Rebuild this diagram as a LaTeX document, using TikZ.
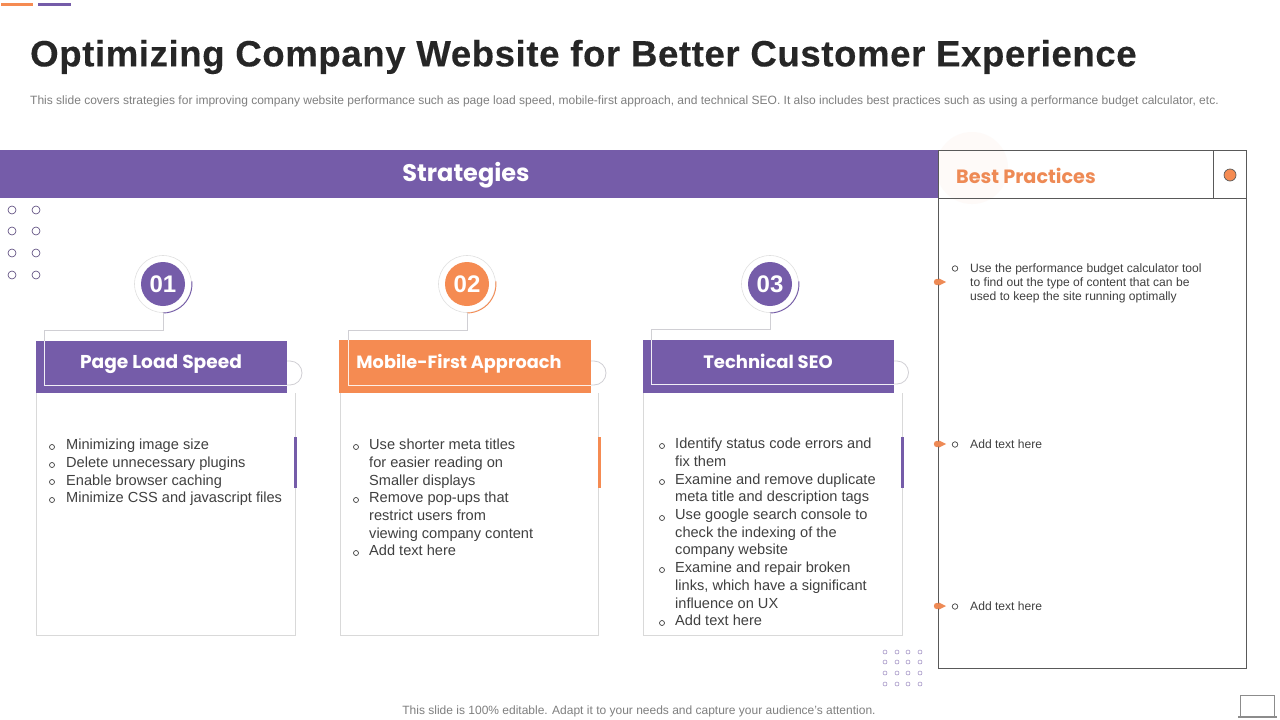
\documentclass[tikz,border=0pt]{standalone}
\usepackage{fontspec}
\setmainfont{Liberation Sans}
\newfontfamily\headfont{Poppins}
\newfontfamily\titlefont[LetterSpace=1.6,FakeBold=0.25]{Liberation Sans}
\definecolor{purp}{HTML}{755CA9}
\definecolor{orng}{HTML}{F58B52}
\definecolor{bptxt}{HTML}{EE8A55}
\definecolor{body}{HTML}{404040}
\definecolor{sub}{HTML}{7F7F7F}
\definecolor{frame}{HTML}{595959}
\definecolor{cardline}{HTML}{D9D9D9}
\definecolor{elbow}{HTML}{D0CFD4}
\tikzset{
  x=1pt,y=-1pt,
  headtxt/.style={text=white,inner sep=0,anchor=center},
  bullet/.style={circle,draw=body,fill=white,line width=.7pt,minimum size=5.5pt,inner sep=0},
  item/.style={text=body,font=\fontsize{14.6}{17.7}\selectfont,align=left,inner sep=0,anchor=north west},
  bptext/.style={text=body,font=\fontsize{12.1}{14}\selectfont,align=left,inner sep=0,anchor=north west},
  numdisc/.style={circle,fill=purp,minimum size=44pt,inner sep=0,text=white,font=\bfseries\fontsize{24}{26}\selectfont},
  ring/.style={circle,draw=#1,line width=.6pt,minimum size=57pt,inner sep=0},
  elbowline/.style={draw=elbow,line width=.8pt},
  cardbox/.style={draw=cardline,line width=.8pt},
  dotpurple/.style={circle,draw=purp!70!black,line width=.6pt,fill=white,inner sep=0,minimum size=#1},
  dotsmall/.style={circle,draw=purp!75!white,line width=.5pt,fill=white,inner sep=0,minimum size=#1},
  pointer/.style={fill=bptxt,draw=none},
}
\begin{document}
\begin{tikzpicture}
\useasboundingbox (0,0) rectangle (1280,720);
\fill[white] (0,0) rectangle (1280,720);
% top accent bars
\fill[orng] (1,3) rectangle (33,6);
\fill[purp] (38,3) rectangle (71,6);
% title and subtitle
\node[anchor=west,inner sep=0,text=black!85,font=\titlefont\bfseries\fontsize{36.6}{40}\selectfont] (title) at (30,57) {Optimizing Company Website for Better Customer Experience};
\node[anchor=west,inner sep=0,text=sub,font=\fontsize{12.02}{14}\selectfont] (subtitle) at (30,101) {This slide covers strategies for improving company website performance such as page load speed, mobile-first approach, and technical SEO. It also includes best practices such as using a performance budget calculator, etc.};
% faint halo
\fill[orng!4] (972,168) circle (36);
% strategies band
\fill[purp] (0,150) rectangle (938,198);
\node[headtxt,font=\headfont\bfseries\fontsize{24}{28}\selectfont] (strategies) at (466,175) {Strategies};
% left dots
\foreach \yy in {210,231,253,275}{
  \node[dotpurple=8pt] (dl\yy) at (12,\yy) {};
  \node[dotpurple=8pt] (dr\yy) at (36,\yy) {};
}
% small dots
\foreach \xx in {885,897,908,920}{\foreach \yy in {652,662,673,684}{
  \node[dotsmall=4pt] (s\xx\yy) at (\xx,\yy) {};
}}
% CARD 1
\draw[cardbox] (36,393) -- (36,635) -- (295.5,635) -- (295.5,393);
\draw[elbow,line width=.8pt] (287,361) -- (290,361) arc[start angle=-90,end angle=90,radius=12] -- (287,385);
\fill[purp] (36,341) rectangle (287,393);
\fill[purp] (294,437) rectangle (297,488);
\node[ring=black!12] (r1) at (163,284) {};
\draw[purp,line width=.9pt] (163,313) arc[start angle=90,end angle=-5,radius=29];
\node[numdisc] (n1) at (163,284) {01};
\draw[elbowline] (r1.south) -- (163,330) -- (44,330) -- (44,341);
\draw[white!90!purp,line width=.8pt] (44,341) -- (44,385) -- (287,385);
\node[headtxt,font=\headfont\bfseries\fontsize{18.6}{22}\selectfont] (h1) at (161,364) {Page Load Speed};
\node[item] (i11) at (66,439) {Minimizing image size\\Delete unnecessary plugins\\Enable browser caching\\Minimize CSS and javascript files};
\foreach \yy in {447,465,482,500}{\node[bullet,minimum size=5pt] (b1\yy) at (52,\yy) {};}
% CARD 2
\draw[cardbox] (340,393) -- (340,635) -- (598.5,635) -- (598.5,393);
\draw[elbow,line width=.8pt] (591,361) -- (594,361) arc[start angle=-90,end angle=90,radius=12] -- (591,385);
\fill[orng] (339,340) rectangle (591,393);
\fill[orng] (598,437) rectangle (601,488);
\node[ring=black!12] (r2) at (467,284) {};
\draw[orng,line width=.9pt] (467,313) arc[start angle=90,end angle=-5,radius=29];
\node[numdisc,fill=orng] (n2) at (467,284) {02};
\draw[elbowline] (r2.south) -- (467,330) -- (348,330) -- (348,340);
\draw[white!85!orng,line width=.8pt] (348,340) -- (348,385) -- (591,385);
\node[headtxt,font=\headfont\bfseries\fontsize{17.7}{22}\selectfont] (h2) at (459,364) {Mobile-First Approach};
\node[item] (i21) at (369,439) {Use shorter meta titles\\for easier reading on\\Smaller displays\\Remove pop-ups that\\restrict users from\\viewing company content\\Add text here};
\foreach \yy in {447,500,553}{\node[bullet,minimum size=5pt] (b2\yy) at (356,\yy) {};}
% CARD 3
\draw[cardbox] (643,393) -- (643,635) -- (902.5,635) -- (902.5,393);
\draw[elbow,line width=.8pt] (894,361) -- (897,361) arc[start angle=-90,end angle=90,radius=11.5] -- (894,384);
\fill[purp] (643,340) rectangle (894,393);
\fill[purp] (901,437) rectangle (904,488);
\node[ring=black!12] (r3) at (770,284) {};
\draw[purp,line width=.9pt] (770,313) arc[start angle=90,end angle=-5,radius=29];
\node[numdisc] (n3) at (770,284) {03};
\draw[elbowline] (r3.south) -- (770,329) -- (651,329) -- (651,340);
\draw[white!90!purp,line width=.8pt] (651,340) -- (651,384) -- (894,384);
\node[headtxt,font=\headfont\bfseries\fontsize{18}{22}\selectfont] (h3) at (768,361.5) {Technical SEO};
\node[item] (i31) at (675,438) {Identify status code errors and\\fix them\\Examine and remove duplicate\\meta title and description tags\\Use google search console to\\check the indexing of the\\company website\\Examine and repair broken\\links, which have a significant\\influence on UX\\Add text here};
\foreach \yy in {446,482,518,570,623}{\node[bullet,minimum size=5pt] (b3\yy) at (662,\yy) {};}
% BEST PRACTICES
\draw[frame,line width=.9pt] (938,150) rectangle (1246.5,668);
\draw[frame,line width=.9pt] (938,198) -- (1246.5,198);
\draw[frame,line width=.9pt] (1213.5,150) -- (1213.5,198);
\node[circle,fill=orng,draw=frame,line width=.7pt,minimum size=12pt,inner sep=0] (bpdot) at (1230,175) {};
\node[anchor=west,inner sep=0,text=bptxt,font=\headfont\bfseries\fontsize{19.2}{22}\selectfont] (bp) at (956,175.5) {Best Practices};
\foreach \yy/\nn in {282/a,444/b,606/c}{
  \fill[pointer] (937,\yy) circle (3.2);
  \fill[pointer] (939,\yy-3.5) -- (946,\yy) -- (939,\yy+3.5) -- cycle;
}
\node[bullet] (ba) at (955,268.5) {};
\node[bullet] (bb) at (955,444.5) {};
\node[bullet] (bc) at (955,606.5) {};
\node[bptext] (t1) at (970,264) {Use the performance budget calculator tool\\to find out the type of content that can be\\used to keep the site running optimally};
\node[bptext] (t2) at (970,440) {Add text here};
\node[bptext] (t3) at (970,602) {Add text here};
% footer
\node[anchor=center,inner sep=0,text=sub,font=\fontsize{12}{14}\selectfont] (foot) at (639,711.5) {This slide is 100\% editable. Adapt it to your needs and capture your audience's attention.};
% laptop
\draw[black!45,line width=.9pt,fill=white] (1240,695) rectangle (1274,716);
\fill[black!45] (1238,715.5) rectangle (1277,718);
\end{tikzpicture}
\end{document}
